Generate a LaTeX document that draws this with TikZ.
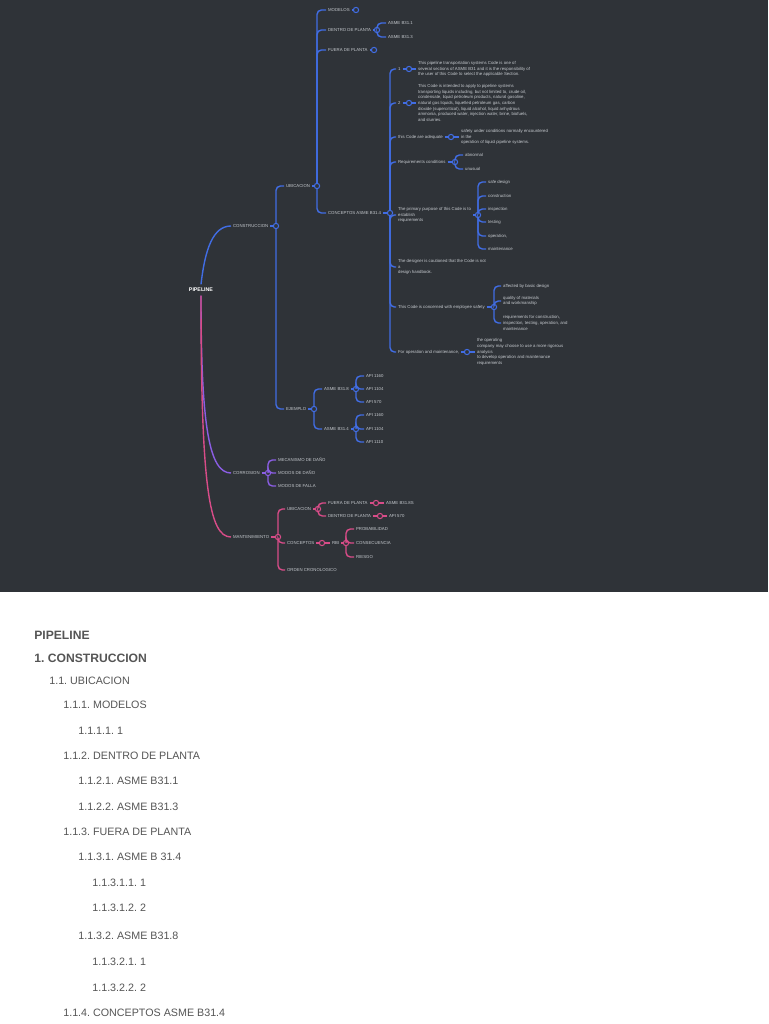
\documentclass[tikz,border=0pt]{standalone}
\usepackage{fontspec}
\setmainfont{Liberation Sans}
\usepackage{xcolor}
\usetikzlibrary{positioning}
\definecolor{MapBg}{HTML}{2F3338}
\definecolor{MapBlue}{HTML}{416DE4}
\definecolor{MapViolet}{HTML}{8B5EE4}
\definecolor{MapRose}{HTML}{D84C88}
\definecolor{MapText}{HTML}{C6CACF}
\definecolor{OutlineInk}{HTML}{555555}
\newcommand\mapfont{\fontsize{2.45}{3.2}\selectfont}
\frenchspacing
\tikzset{
  topic/.style={anchor=west, inner ysep=.5pt, inner xsep=1pt, text=MapText, font=\mapfont, align=left},
  hub/.style={inner sep=2pt, text=white, font=\bfseries\fontsize{3}{3.6}\selectfont},
  joint/.style={circle, draw=#1, fill=MapBg, inner sep=0pt, minimum size=3pt, line width=.6pt},
  joint/.default=MapBlue,
  branch/.style={draw=#1, line width=.8pt, rounded corners=2.5pt},
  branch/.default=MapBlue,
  outline/.style={anchor=west, inner sep=0pt, text=OutlineInk, font=\fontsize{6.1}{7}\selectfont},
  outhead/.style={outline, font=\bfseries\fontsize{6.9}{8}\selectfont},
}

\begin{document}
\begin{tikzpicture}[x=0.02cm, y=-0.02cm]
  \useasboundingbox (0,0) rectangle (768,1024);
  \fill[white] (0,0) rectangle (768,1024);
  \fill[MapBg] (0,0) rectangle (768,592);

  % map: root and construccion
  \node[hub] (pipe) at (201,290) {PIPELINE};
  \node[topic] (constr) at (231,226) {CONSTRUCCION};
  \node[joint] (constr-j) at (276,226) {};
  \node[topic] (ubic) at (284,186) {UBICACION};
  \node[joint] (ubic-j) at (317,186) {};
  \node[topic] (model) at (326,10) {MODELOS};
  \node[joint] (model-j) at (356,10) {};
  \node[topic] (dentro) at (326,30) {DENTRO DE PLANTA};
  \node[joint] (dentro-j) at (377,30) {};
  \node[topic] (b311) at (386,23) {ASME B31.1};
  \node[topic] (b313) at (386,37) {ASME B31.3};
  \node[topic] (fuera) at (326,50) {FUERA DE PLANTA};
  \node[joint] (fuera-j) at (374,50) {};
  \node[topic] (concep) at (326,213) {CONCEPTOS ASME B31.4};
  \node[joint] (concep-j) at (390,213) {};

  % conceptos asme b31.4
  \node[topic] (c1) at (396,69) {1};
  \node[joint] (c1-j) at (409,69) {};
  \node[topic] (c1-t) at (416,69) {This pipeline transportation systems Code is one of\\several sections of ASME B31 and it is the responsibility of\\the user of this Code to select the applicable Section.};
  \node[topic] (c2) at (396,103) {2};
  \node[joint] (c2-j) at (409,103) {};
  \node[topic] (c2-t) at (416,103) {This Code is intended to apply to pipeline systems\\transporting liquids including, but not limited to, crude oil,\\condensate, liquid petroleum products, natural gasoline,\\natural gas liquids, liquefied petroleum gas, carbon\\dioxide (supercritical), liquid alcohol, liquid anhydrous\\ammonia, produced water, injection water, brine, biofuels,\\and slurries.};
  \node[topic] (c3) at (396,137) {this Code are adequate};
  \node[joint] (c3-j) at (451,137) {};
  \node[topic] (c3-t) at (459,137) {safety under conditions normally encountered\\in the\\operation of liquid pipeline systems.};
  \node[topic] (c4) at (396,162) {Requirements conditions};
  \node[joint] (c4-j) at (455,162) {};
  \node[topic] (abn) at (463,155) {abnormal};
  \node[topic] (unu) at (463,169) {unusual};
  \node[topic] (c5) at (396,215) {The primary purpose of this Code is to\\establish\\requirements};
  \node[joint] (c5-j) at (478,215) {};
  \node[topic] (safe) at (486,182) {safe design};
  \node[topic] (cons) at (486,196) {construction};
  \node[topic] (insp) at (486,209) {inspection};
  \node[topic] (test) at (486,222) {testing};
  \node[topic] (oper) at (486,236) {operation,};
  \node[topic] (main) at (486,249) {maintenance};
  \node[topic] (c6) at (396,267) {The designer is cautioned that the Code is not\\a\\design handbook.};
  \node[topic] (c7) at (396,307) {This Code is concerned with employee safety};
  \node[joint] (c7-j) at (494,307) {};
  \node[topic] (aff) at (501,286) {affected by basic design};
  \node[topic] (qual) at (501,301) {quality of materials\\and workmanship};
  \node[topic] (reqs) at (501,323) {requirements for construction,\\inspection, testing, operation, and\\maintenance};
  \node[topic] (c8) at (396,352) {For operation and maintenance,};
  \node[joint] (c8-j) at (467,352) {};
  \node[topic] (c8-t) at (475,352) {the operating\\company may choose to use a more rigorous\\analysis\\to develop operation and maintenance\\requirements};

  % ejemplo
  \node[topic] (ejem) at (284,409) {EJEMPLO};
  \node[joint] (ejem-j) at (314,409) {};
  \node[topic] (e318) at (322,389) {ASME B31.8};
  \node[joint] (e318-j) at (356,389) {};
  \node[topic] (e318a) at (364,376) {API 1160};
  \node[topic] (e318b) at (364,389) {API 1104};
  \node[topic] (e318c) at (364,402) {API 570};
  \node[topic] (e314) at (322,429) {ASME B31.4};
  \node[joint] (e314-j) at (356,429) {};
  \node[topic] (e314a) at (364,415) {API 1160};
  \node[topic] (e314b) at (364,429) {API 1104};
  \node[topic] (e314c) at (364,442) {API 1110};

  % corrosion
  \node[topic] (corr) at (231,473) {CORROSION};
  \node[joint=MapViolet] (corr-j) at (268,473) {};
  \node[topic] (mec) at (276,460) {MECANISMO DE DAÑO};
  \node[topic] (mdd) at (276,473) {MODOS DE DAÑO};
  \node[topic] (mdf) at (276,486) {MODOS DE FALLA};

  % mantenimiento
  \node[topic] (mant) at (231,537) {MANTENIMIENTO};
  \node[joint=MapRose] (mant-j) at (278,537) {};
  \node[topic] (mubic) at (285,509) {UBICACION};
  \node[joint=MapRose] (mubic-j) at (318,509) {};
  \node[topic] (mfuera) at (326,503) {FUERA DE PLANTA};
  \node[joint=MapRose] (mfuera-j) at (376,503) {};
  \node[topic] (m318s) at (384,503) {ASME B31.8S};
  \node[topic] (mdentro) at (326,516) {DENTRO DE PLANTA};
  \node[joint=MapRose] (mdentro-j) at (380,516) {};
  \node[topic] (m570) at (387,516) {API 570};
  \node[topic] (mconc) at (285,543) {CONCEPTOS};
  \node[joint=MapRose] (mconc-j) at (322,543) {};
  \node[topic] (rbi) at (330,543) {RBI};
  \node[joint=MapRose] (rbi-j) at (346,543) {};
  \node[topic] (prob) at (354,529) {PROBABILIDAD};
  \node[topic] (cons2) at (354,543) {CONSECUENCIA};
  \node[topic] (ries) at (354,557) {RIESGO};
  \node[topic] (orden) at (285,570) {ORDEN CRONOLOGICO};

  % connectors
  \draw[branch] (pipe.north) .. controls +(4,-35) and +(-18,0) .. (constr.west);
  \draw[branch=MapViolet] (pipe.south) .. controls +(0,130) and +(-22,0) .. (corr.west);
  \draw[branch=MapRose] (pipe.south) .. controls +(0,190) and +(-22,0) .. (mant.west);

  \draw[branch] (constr) -- (constr-j);
  \draw[branch] (constr-j) |- (ubic.west);
  \draw[branch] (constr-j) |- (ejem.west);
  \draw[branch] (ubic) -- (ubic-j);
  \draw[branch] (ubic-j) |- (model.west);
  \draw[branch] (ubic-j) |- (dentro.west);
  \draw[branch] (ubic-j) |- (fuera.west);
  \draw[branch] (ubic-j) |- (concep.west);
  \draw[branch] (model) -- (model-j);
  \draw[branch] (fuera) -- (fuera-j);
  \draw[branch] (dentro) -- (dentro-j);
  \draw[branch] (dentro-j) |- (b311.west);
  \draw[branch] (dentro-j) |- (b313.west);
  \draw[branch] (concep) -- (concep-j);
  \foreach \k in {c1,c2,c3,c4,c5,c6,c7,c8}
    \draw[branch] (concep-j) |- (\k.west);
  \draw[branch] (c1) -- (c1-j) -- (c1-t);
  \draw[branch] (c2) -- (c2-j) -- (c2-t);
  \draw[branch] (c3) -- (c3-j) -- (c3-t);
  \draw[branch] (c4) -- (c4-j);
  \draw[branch] (c4-j) |- (abn.west);
  \draw[branch] (c4-j) |- (unu.west);
  \draw[branch] (c5) -- (c5-j);
  \foreach \k in {safe,cons,insp,test,oper,main}
    \draw[branch] (c5-j) |- (\k.west);
  \draw[branch] (c7) -- (c7-j);
  \foreach \k in {aff,qual,reqs}
    \draw[branch] (c7-j) |- (\k.west);
  \draw[branch] (c8) -- (c8-j) -- (c8-t);

  \draw[branch] (ejem) -- (ejem-j);
  \draw[branch] (ejem-j) |- (e318.west);
  \draw[branch] (ejem-j) |- (e314.west);
  \draw[branch] (e318) -- (e318-j);
  \draw[branch] (e314) -- (e314-j);
  \foreach \k in {a,b,c} {
    \draw[branch] (e318-j) |- (e318\k.west);
    \draw[branch] (e314-j) |- (e314\k.west);
  }

  \draw[branch=MapViolet] (corr) -- (corr-j);
  \foreach \k in {mec,mdd,mdf}
    \draw[branch=MapViolet] (corr-j) |- (\k.west);

  \draw[branch=MapRose] (mant) -- (mant-j);
  \foreach \k in {mubic,mconc,orden}
    \draw[branch=MapRose] (mant-j) |- (\k.west);
  \draw[branch=MapRose] (mubic) -- (mubic-j);
  \draw[branch=MapRose] (mubic-j) |- (mfuera.west);
  \draw[branch=MapRose] (mubic-j) |- (mdentro.west);
  \draw[branch=MapRose] (mfuera) -- (mfuera-j) -- (m318s);
  \draw[branch=MapRose] (mdentro) -- (mdentro-j) -- (m570);
  \draw[branch=MapRose] (mconc) -- (mconc-j) -- (rbi);
  \draw[branch=MapRose] (rbi) -- (rbi-j);
  \foreach \k in {prob,cons2,ries}
    \draw[branch=MapRose] (rbi-j) |- (\k.west);

  % outline below the map
  \node[outhead] (o-pipe) at (34,635) {PIPELINE};
  \node[outhead] (o-1) at (34,658) {1. CONSTRUCCION};
  \node[outline] (o-11) at (49,681) {1.1. UBICACION};
  \node[outline] (o-111) at (63,705) {1.1.1. MODELOS};
  \node[outline] (o-1111) at (78,731) {1.1.1.1. 1};
  \node[outline] (o-112) at (63,756) {1.1.2. DENTRO DE PLANTA};
  \node[outline] (o-1121) at (78,781) {1.1.2.1. ASME B31.1};
  \node[outline] (o-1122) at (78,807) {1.1.2.2. ASME B31.3};
  \node[outline] (o-113) at (63,832) {1.1.3. FUERA DE PLANTA};
  \node[outline] (o-1131) at (78,857) {1.1.3.1. ASME B 31.4};
  \node[outline] (o-11311) at (92,883) {1.1.3.1.1. 1};
  \node[outline] (o-11312) at (92,908) {1.1.3.1.2. 2};
  \node[outline] (o-1132) at (78,936) {1.1.3.2. ASME B31.8};
  \node[outline] (o-11321) at (92,962) {1.1.3.2.1. 1};
  \node[outline] (o-11322) at (92,988) {1.1.3.2.2. 2};
  \node[outline] (o-114) at (63,1013) {1.1.4. CONCEPTOS ASME B31.4};
\end{tikzpicture}
\end{document}
